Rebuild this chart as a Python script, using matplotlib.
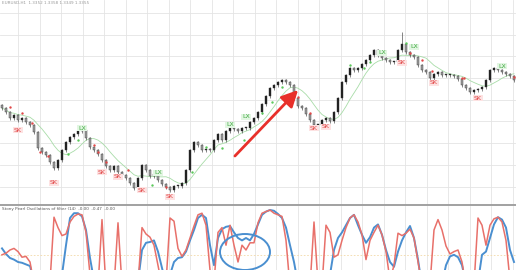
import numpy as np
import pandas as pd
import matplotlib
matplotlib.use("Agg")
import matplotlib.pyplot as plt
from matplotlib.patches import Ellipse, Rectangle

# price closes (one candle per bar)
closes = [92, 88, 82, 85, 80, 82, 78, 75, 68, 52,
          48, 45, 38, 32, 40, 50, 58, 63, 66, 69,
          70, 62, 53, 50, 46, 40, 34, 30, 34, 28,
          25, 22, 17, 12, 22, 35, 30, 24, 26, 20,
          16, 13, 10, 14, 14, 17, 30, 50, 58, 55,
          50, 51, 50, 60, 66, 60, 69, 72, 71, 69,
          72, 72, 78, 82, 88, 96, 104, 112, 115, 118,
          120, 118, 115, 102, 94, 92, 86, 80, 75, 75,
          80, 82, 79, 88, 102, 118, 125, 132, 130, 132,
          136, 140, 145, 150, 145, 142, 140, 138, 138, 150,
          156, 148, 145, 143, 135, 130, 128, 122, 126, 128,
          125, 125, 125, 124, 121, 115, 112, 108, 110, 111,
          113, 120, 130, 132, 130, 128, 126, 124, 120]
first_open = 95
spike_bar = 100
spike_high = 168

# oscillator lines (fast = red, slow = blue)
fast = [44, 46, 50, 52, 48, 41, 42, 35, 8, 5,
        3, 6, 10, 91, 78, 68, 70, 85, 92, 95,
        94, 72, 19, 2, 4, 88, 3, 5, 4, 84,
        6, 3, 5, 4, 8, 78, 70, 66, 56, 31,
        5, 8, 90, 86, 52, 42, 50, 65, 80, 94,
        96, 81, 25, 10, 72, 78, 56, 81, 56, 35,
        56, 50, 59, 59, 84, 96, 98, 100, 96, 94,
        92, 62, 4, 2, 5, 3, 6, 4, 85, 8,
        5, 81, 72, 41, 44, 62, 78, 90, 94, 85,
        69, 38, 62, 72, 81, 69, 48, 12, 31, 71,
        68, 71, 76, 65, 35, 6, 4, 7, 75, 88,
        75, 55, 45, 48, 50, 35, 5, 3, 6, 90,
        81, 56, 81, 89, 91, 85, 62, 12, 5]
slow = [52, 45, 40, 38, 35, 34, 32, 30, 10, 5,
        3, 2, 4, 6, 8, 19, 56, 90, 96, 96,
        92, 75, 40, 12, 5, 3, 4, 2, 6, 4,
        3, 5, 2, 4, 10, 50, 59, 60, 62, 48,
        28, 5, 19, 35, 40, 41, 48, 62, 75, 90,
        94, 90, 56, 31, 65, 76, 79, 80, 72, 65,
        62, 65, 62, 70, 82, 94, 98, 100, 99, 95,
        90, 78, 56, 35, 8, 4, 2, 5, 3, 6,
        4, 8, 19, 50, 65, 72, 81, 90, 94, 81,
        69, 59, 66, 78, 82, 69, 50, 35, 29, 48,
        62, 72, 80, 65, 38, 5, 3, 6, 4, 2,
        8, 31, 42, 44, 41, 31, 8, 4, 6, 10,
        44, 48, 65, 82, 91, 88, 78, 50, 35]

# signal labels and stop dots
sk_bar = [4, 13, 25, 29, 35, 42, 78, 81, 100, 108, 119]
sk_price = [70, 17, 28, 23, 10, 3, 72, 73, 137, 117, 102]
lx_bar = [20, 39, 57, 61, 95, 103, 125]
lx_price = [72, 27, 75, 83, 147, 153, 134]
red_dot_bar = [2, 5, 7.5, 9.5, 11.5, 23, 24, 26, 31.5, 41, 74, 77, 99, 102, 105, 107.5, 115, 115.5, 128]
red_dot_price = [93, 87, 77, 48, 44, 55, 48, 38, 30, 13, 103, 87, 138, 147, 140, 129, 122, 122, 123]
green_dot_bar = [16.5, 19, 37.5, 47.5, 51, 55, 60.5, 65, 67.5, 70, 87, 90.5, 92, 101]
green_dot_price = [46, 60, 15, 28, 53, 52, 60, 87, 98, 113, 135, 132, 138, 157]

n = len(closes)
idx = np.arange(n)
df = pd.DataFrame({"close": closes})
df["open"] = df.close.shift(1).fillna(first_open)
df["high"] = df[["open", "close"]].max(axis=1) + 1.5
df["low"] = df[["open", "close"]].min(axis=1) - 1.5
df.loc[spike_bar, "high"] = spike_high

fig = plt.figure(figsize=(5.16, 2.70), dpi=100)
split = 205 / 270
ax = fig.add_axes([0, 1 - split, 1, split])
ax2 = fig.add_axes([0, 0, 1, 64 / 270])

grid_x = np.arange(4, n, 5.375)
for a in (ax, ax2):
    a.set_xlim(-0.5, n - 0.5)
    a.set_xticks(grid_x)
    a.tick_params(length=0, labelbottom=False, labelleft=False)
    a.grid(True, color="#e4e4e4", lw=0.6)
    a.set_axisbelow(True)
    for s in a.spines.values():
        s.set_visible(False)

ax.set_ylim(-5, 200)
ax.set_yticks(np.arange(187, -5, -21.7))
ax.spines["bottom"].set_visible(True)
ax.spines["bottom"].set_color("#9a9a9a")
ax.spines["bottom"].set_linewidth(1.3)

# moving average
ma = df.close.rolling(8, min_periods=1).mean()
ax.plot(idx, ma, color="#a8dca8", lw=0.6, zorder=1)

# candles
for i, r in df.iterrows():
    up = r.close >= r.open
    col = "#1e1e1e" if up else "#a0a0a0"
    ax.vlines(i, r.low, r.high, color="#555555", lw=0.5, zorder=2)
    ax.add_patch(Rectangle((i - 0.35, min(r.open, r.close)), 0.7,
                           max(abs(r.close - r.open), 0.8),
                           facecolor=col, edgecolor="#333333", lw=0.3, zorder=3))

ax.scatter(red_dot_bar, red_dot_price, s=3, color="#e04848", zorder=4, lw=0)
ax.scatter(green_dot_bar, green_dot_price, s=3, color="#5cc85c", zorder=4, lw=0)

for b, p in zip(sk_bar, sk_price):
    ax.text(b, p, "SK", fontsize=4.5, color="#e04444", ha="center", va="center", zorder=5,
            bbox=dict(boxstyle="square,pad=0.15", facecolor="#fde2e2", edgecolor="none"))
for b, p in zip(lx_bar, lx_price):
    ax.text(b, p, "LX", fontsize=4.5, color="#44aa44", ha="center", va="center", zorder=5,
            bbox=dict(boxstyle="square,pad=0.15", facecolor="#e2f6e2", edgecolor="none"))

ax.annotate("", xy=(74.5, 112), xytext=(57.75, 42),
            arrowprops=dict(arrowstyle="-|>,head_width=0.5,head_length=1.0",
                            color="#e8302a", lw=2.0, mutation_scale=10), zorder=6)

ax.text(0.004, 0.997, "EURUSD,H1  1.3352 1.3358 1.3349 1.3355", transform=ax.transAxes,
        fontsize=3, color="#9a9a9a", ha="left", va="top")

# oscillator panel
ax2.set_ylim(25, 105)
ax2.set_yticks([])
ax2.axhline(44, color="#f3d9a8", lw=0.6, ls=(0, (2, 2)))
ax2.plot(idx, fast, color="#e8706a", lw=1.1, zorder=3)
ax2.plot(idx, slow, color="#4a8fd0", lw=1.4, zorder=2)
ax2.add_patch(Ellipse((60.75, 47.5), 12.5, 45, fill=False, edgecolor="#4a8fd0", lw=1.4, zorder=4))
ax2.text(0.004, 0.985, "Stony Pearl Oscillations of filter (14)  -0.00  -0.47  -0.00",
         transform=ax2.transAxes, fontsize=3, color="#555555", ha="left", va="top")

fig.savefig("out.png", dpi=100)
